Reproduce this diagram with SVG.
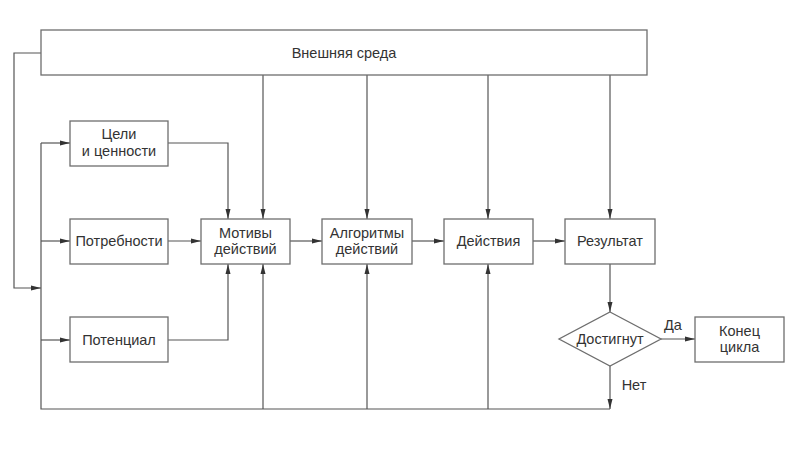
<svg xmlns="http://www.w3.org/2000/svg" width="791" height="465" viewBox="0 0 791 465">
<style>
.box{fill:#fff;stroke:#6e6e6e;stroke-width:1.3}
.ln{fill:none;stroke:#555;stroke-width:1.2}
text{font-family:"Liberation Sans",Arial,sans-serif;font-size:14.5px;fill:#333;text-anchor:middle}
</style>
<defs>
<marker id="ar" viewBox="0 0 10 6" refX="10" refY="3" markerWidth="10" markerHeight="6" markerUnits="userSpaceOnUse" orient="auto">
<path d="M0,0.5 L10,3 L0,5.5 Z" fill="#333"/>
</marker>
</defs>
<rect width="791" height="465" fill="#fff"/>
<g id="connectors">
<path class="ln" d="M41,53 H14 V288 H41" marker-end="url(#ar)"/>
<path class="ln" d="M41,143 V409 H610"/>
<path class="ln" d="M41,143 H70" marker-end="url(#ar)"/>
<path class="ln" d="M41,241 H70" marker-end="url(#ar)"/>
<path class="ln" d="M41,340 H70" marker-end="url(#ar)"/>
<path class="ln" d="M168,143 H228 V219" marker-end="url(#ar)"/>
<path class="ln" d="M168,241 H201" marker-end="url(#ar)"/>
<path class="ln" d="M168,340 H228 V264" marker-end="url(#ar)"/>
<path class="ln" d="M263,75 V219" marker-end="url(#ar)"/>
<path class="ln" d="M367,75 V219" marker-end="url(#ar)"/>
<path class="ln" d="M488,75 V219" marker-end="url(#ar)"/>
<path class="ln" d="M610,75 V219" marker-end="url(#ar)"/>
<path class="ln" d="M263,409 V264" marker-end="url(#ar)"/>
<path class="ln" d="M367,409 V264" marker-end="url(#ar)"/>
<path class="ln" d="M488,409 V264" marker-end="url(#ar)"/>
<path class="ln" d="M290,241 H322" marker-end="url(#ar)"/>
<path class="ln" d="M412,241 H444" marker-end="url(#ar)"/>
<path class="ln" d="M533,241 H565" marker-end="url(#ar)"/>
<path class="ln" d="M610,264 V312" marker-end="url(#ar)"/>
<path class="ln" d="M661,339 H695" marker-end="url(#ar)"/>
<path class="ln" d="M610,366 V409" marker-end="url(#ar)"/>
<text x="673" y="330">Да</text>
<text x="634" y="390">Нет</text>
</g>
<g id="env"><rect class="box" x="41" y="30" width="606" height="45"/><text x="344" y="58">Внешняя среда</text></g>
<g id="goals"><rect class="box" x="70" y="121" width="98" height="45"/><text x="119" y="139">Цели</text><text x="119" y="156">и ценности</text></g>
<g id="needs"><rect class="box" x="70" y="219" width="98" height="45"/><text x="119" y="246">Потребности</text></g>
<g id="potential"><rect class="box" x="70" y="317" width="98" height="45"/><text x="119" y="345">Потенциал</text></g>
<g id="motives"><rect class="box" x="201" y="219" width="89" height="45"/><text x="245.5" y="238">Мотивы</text><text x="245.5" y="254">действий</text></g>
<g id="algorithms"><rect class="box" x="322" y="219" width="90" height="45"/><text x="367" y="238">Алгоритмы</text><text x="367" y="254">действий</text></g>
<g id="actions"><rect class="box" x="444" y="219" width="89" height="45"/><text x="488.5" y="246">Действия</text></g>
<g id="result"><rect class="box" x="565" y="219" width="90" height="45"/><text x="610" y="246">Результат</text></g>
<g id="reached"><polygon class="box" points="610,312 661,339 610,366 559,339"/><text x="610" y="344">Достигнут</text></g>
<g id="end"><rect class="box" x="695" y="317" width="89" height="45"/><text x="739.5" y="336">Конец</text><text x="739.5" y="352">цикла</text></g>
</svg>
